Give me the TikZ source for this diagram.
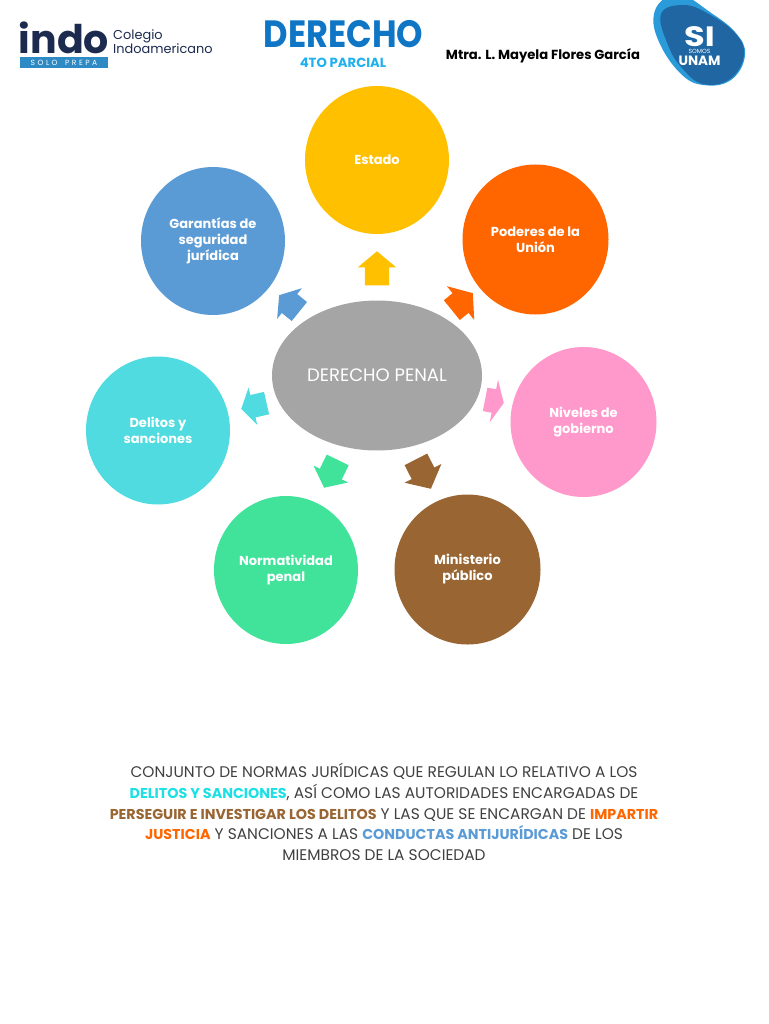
\documentclass[tikz,border=0pt]{standalone}
\usepackage{fontspec}
\setmainfont{Poppins}
\usetikzlibrary{shapes.geometric,shapes.arrows}
\definecolor{EstadoClr}{HTML}{FFC000}
\definecolor{PoderesClr}{HTML}{FF6600}
\definecolor{NivelesClr}{HTML}{FF99CC}
\definecolor{MinisterioClr}{HTML}{996633}
\definecolor{NormaClr}{HTML}{41E29A}
\definecolor{DelitosClr}{HTML}{4FDBE0}
\definecolor{SancionesClr}{HTML}{1CE0E4}
\definecolor{GarantiasClr}{HTML}{5B9BD5}
\definecolor{PenalClr}{HTML}{A5A5A5}
\definecolor{TextoClr}{HTML}{404040}
\definecolor{DerechoClr}{HTML}{0F75C5}
\definecolor{ParcialClr}{HTML}{1FB0EE}
\definecolor{IndoClr}{HTML}{1B2A4E}
\definecolor{SoloClr}{HTML}{2E8AC4}
\definecolor{UnamClr}{HTML}{1F66A3}
\definecolor{UnamLightClr}{HTML}{2A9AD8}
\newcommand{\resalta}[2]{\textcolor{#1}{\fontsize{14.3}{16}\selectfont\bfseries #2}}
\tikzset{
  tema/.style={ellipse,minimum width=144pt,minimum height=148pt,inner sep=0pt,
    text=white,align=center,font=\fontsize{13}{16}\selectfont\bfseries},
  temagrande/.style={tema,minimum width=146pt,minimum height=150pt},
  flecha/.style n args={6}{single arrow,draw=none,fill=#1,anchor=tip,inner xsep=0pt,
    rotate=#2,minimum height=#3pt,inner ysep=#4pt,single arrow head extend=#5pt,
    single arrow tip angle=#6},
  parrafo/.style={anchor=base,inner sep=0pt,text=TextoClr,font=\fontsize{15.4}{16}\selectfont}
}
\begin{document}
\begin{tikzpicture}[x=1pt,y=-1pt]
\useasboundingbox (0,0) rectangle (768,1024);

% encabezado
\node[fill=SoloClr,minimum width=88pt,minimum height=11pt,inner sep=0pt] (solo) at (64,63) {};
\node[anchor=base,inner sep=0pt,text=IndoClr,align=center,font=\fontsize{39.5}{12}\selectfont\bfseries] (indo) at (64,66)
  {indo\\{\color{white}\fontsize{7.5}{12}\selectfont\mdseries S\,\,O\,\,L\,\,O\quad P\,\,R\,\,E\,\,P\,\,A}};
\node[anchor=west,text=IndoClr,align=left,inner sep=0pt,font=\fontsize{12.9}{12.5}\selectfont] (colegio) at (113,42) {Colegio\\Indoamericano};
\node[text=DerechoClr,xscale=.885,inner sep=0pt,font=\fontsize{38}{38}\selectfont\bfseries] (titulo) at (343.5,34) {DERECHO};
\node[text=ParcialClr,inner sep=0pt,font=\fontsize{13.2}{13}\selectfont\bfseries] (parcial) at (343,63) {4TO PARCIAL};
\node[text=black,inner sep=0pt,font=\fontsize{13.15}{13}\selectfont\bfseries] (mtra) at (543,55.5) {Mtra. L. Mayela Flores García};

% escudo
\fill[UnamLightClr] plot[smooth cycle,tension=.7] coordinates {(668,-4) (654,14) (659,42) (680,73) (703,85) (731,80) (745,55) (735,32) (707,10) (685,-4)};
\fill[UnamClr] plot[smooth cycle,tension=.7] coordinates {(661,14) (683,5) (707,13) (735,33) (744,55) (730,79) (703,84) (682,68) (668,45)};
\node[anchor=base,text=white,align=center,inner sep=0pt,font=\fontsize{13.5}{11}\selectfont\bfseries] (unam) at (699.5,66)
  {{\fontsize{28}{11}\selectfont\scalebox{1.2}[1]{SI}}\\[-4.5pt]{\fontsize{6}{11}\selectfont\mdseries SOMOS}\\[1.5pt]UNAM};

% temas
\node[ellipse,fill=PenalClr,minimum width=210pt,minimum height=150pt,inner sep=0pt,text=white,
  font=\fontsize{18}{18}\selectfont] (penal) at (377,375.5) {DERECHO PENAL};
\node[tema,fill=EstadoClr] (estado) at (377,160) {Estado};
\node[temagrande,fill=PoderesClr] (poderes) at (535.5,239.5) {Poderes de la\\Unión};
\node[temagrande,fill=NivelesClr] (niveles) at (583.5,422) {Niveles de\\gobierno};
\node[temagrande,fill=MinisterioClr] (ministerio) at (467.5,569.5) {Ministerio\\público};
\node[tema,fill=NormaClr] (norma) at (286,570) {Normatividad\\penal};
\node[tema,fill=DelitosClr] (delitos) at (158,430.5) {Delitos y\\sanciones};
\node[tema,fill=GarantiasClr] (garantias) at (213,241) {Garantías de\\seguridad\\jurídica};

% flechas
\node[flecha={EstadoClr}{90}{34}{12}{7}{100}] (flechaEstado) at (377,251) {};
\node[flecha={PoderesClr}{39}{27}{12.5}{9}{108}] (flechaPoderes) at (473,293) {};
\node[flecha={NivelesClr}{-11}{19}{11.75}{9.75}{130}] (flechaNiveles) at (504,403) {};
\node[flecha={MinisterioClr}{-63}{33}{12.5}{8}{100}] (flechaMinisterio) at (431,489) {};
\node[flecha={NormaClr}{-116}{31}{12}{7}{103}] (flechaNorma) at (324,488) {};
\node[flecha={DelitosClr}{193}{26}{11.3}{7.7}{116}] (flechaDelitos) at (241,409) {};
\node[flecha={GarantiasClr}{141}{26}{12}{7.5}{112}] (flechaGarantias) at (279,295) {};

% texto
\node[parrafo] (linea1) at (384,777) {CONJUNTO DE NORMAS JURÍDICAS QUE REGULAN LO RELATIVO A LOS};
\node[parrafo] (linea2) at (384,798) {\resalta{SancionesClr}{DELITOS Y SANCIONES}, ASÍ COMO LAS AUTORIDADES ENCARGADAS DE};
\node[parrafo] (linea3) at (384,819) {\resalta{MinisterioClr}{PERSEGUIR E INVESTIGAR LOS DELITOS} Y LAS QUE SE ENCARGAN DE \resalta{PoderesClr}{IMPARTIR}};
\node[parrafo] (linea4) at (384,839) {\resalta{PoderesClr}{JUSTICIA} Y SANCIONES A LAS \resalta{GarantiasClr}{CONDUCTAS ANTIJURÍDICAS} DE LOS};
\node[parrafo] (linea5) at (384,860) {MIEMBROS DE LA SOCIEDAD};
\end{tikzpicture}
\end{document}
